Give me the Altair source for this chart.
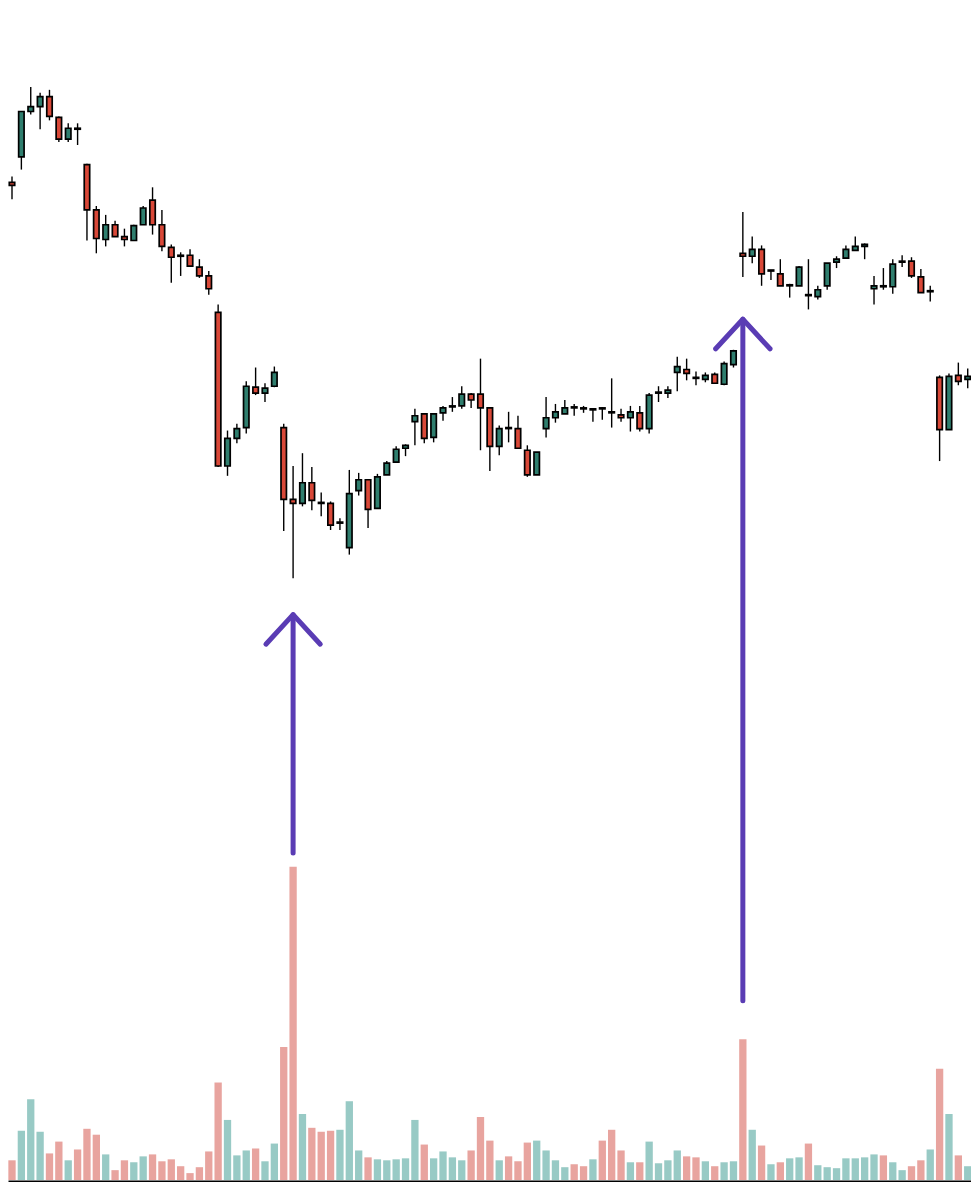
import altair as alt
import pandas as pd

# ---- candle data (price) ----
open_ = [99.7, 101.6, 104.2, 108.8, 109.3, 110.3, 108.2, 106.0, 107.1, 103.4,
         98.8, 95.8, 97.3, 96.1, 95.7, 97.3, 99.8, 97.3, 95.0, 94.2,
         94.2, 93.0, 92.1, 88.4, 72.8, 75.6, 76.7, 80.8, 80.2, 80.9,
         76.7, 69.4, 69.0, 71.1, 69.1, 69.0, 67.0, 64.5, 70.3, 71.4,
         68.5, 71.9, 73.2, 74.6, 77.3, 78.1, 75.7, 78.2, 78.8, 78.9,
         80.1, 80.1, 78.7, 74.8, 76.7, 76.6, 74.4, 71.9, 76.6, 77.7,
         78.1, 78.8, 78.7, 78.5, 78.7, 78.3, 78.0, 77.7, 78.2, 76.6,
         80.2, 80.2, 82.3, 82.6, 81.8, 81.6, 82.1, 81.1, 83.1, 94.4,
         94.1, 94.8, 92.6, 92.3, 91.1, 91.1, 90.2, 90.0, 91.1, 93.5,
         93.9, 94.7, 95.1, 90.8, 91.1, 91.0, 93.5, 93.6, 92.0, 90.5,
         81.8, 76.5, 82.0, 81.6, 81.9]
high = [101.8, 102.2, 108.8, 111.3, 110.7, 111.0, 108.3, 107.6, 107.6, 103.5,
        99.2, 98.3, 97.7, 96.9, 97.3, 99.2, 101.1, 98.8, 95.3, 94.5,
        94.8, 93.8, 92.6, 89.2, 76.4, 77.1, 81.4, 82.8, 81.2, 82.9,
        77.1, 72.8, 74.1, 72.7, 70.1, 69.2, 67.5, 72.4, 72.1, 71.4,
        72.0, 73.3, 74.8, 75.0, 78.6, 78.1, 78.1, 78.9, 79.8, 80.9,
        80.2, 83.7, 78.8, 76.9, 78.3, 77.9, 74.9, 74.2, 79.8, 79.1,
        79.5, 79.1, 78.9, 78.6, 78.8, 81.7, 78.6, 78.9, 78.9, 80.2,
        80.9, 80.9, 83.9, 83.7, 82.4, 82.3, 82.3, 83.4, 84.6, 98.6,
        96.1, 95.2, 92.7, 93.8, 91.3, 93.1, 93.8, 91.1, 93.4, 94.1,
        95.2, 96.1, 95.4, 92.1, 92.9, 93.8, 94.2, 94.0, 92.8, 91.1,
        82.0, 82.2, 83.3, 82.7, 83.5]
low = [99.5, 99.9, 102.9, 108.5, 107.0, 107.9, 105.7, 105.7, 105.4, 95.7,
       94.4, 95.1, 96.1, 95.1, 95.7, 97.3, 96.3, 94.6, 91.4, 92.1,
       93.1, 91.9, 90.2, 72.7, 71.8, 75.1, 76.1, 80.0, 79.3, 80.8,
       66.2, 61.4, 68.7, 68.3, 67.7, 66.3, 66.3, 63.8, 69.8, 66.5,
       68.5, 71.9, 73.2, 73.8, 74.9, 75.1, 75.2, 77.4, 78.3, 78.6,
       78.7, 74.4, 72.3, 73.9, 75.2, 74.6, 71.7, 71.9, 75.7, 77.2,
       78.1, 77.9, 78.2, 77.3, 77.5, 76.7, 77.3, 76.3, 76.3, 76.1,
       79.3, 79.7, 80.4, 81.5, 81.0, 81.3, 81.2, 81.0, 82.8, 92.0,
       93.4, 91.1, 91.7, 91.1, 89.9, 91.1, 88.7, 89.7, 90.7, 92.9,
       93.9, 94.7, 93.8, 89.2, 90.7, 90.3, 93.0, 91.9, 90.4, 89.5,
       73.3, 76.5, 81.0, 80.7, 81.8]
close = [101.6, 101.3, 108.8, 109.3, 110.3, 108.3, 106.0, 107.1, 107.0, 98.8,
         95.9, 97.3, 96.1, 95.8, 97.2, 99.0, 97.3, 95.1, 94.0, 94.1,
         93.1, 92.1, 90.8, 72.8, 75.6, 76.6, 80.9, 80.2, 80.7, 82.3,
         69.4, 69.0, 71.1, 69.3, 69.0, 66.8, 67.1, 70.0, 71.4, 68.4,
         71.7, 73.1, 74.5, 74.9, 77.9, 75.6, 78.1, 78.7, 78.9, 80.1,
         79.5, 78.7, 74.8, 76.6, 76.6, 74.6, 71.9, 74.2, 77.7, 78.3,
         78.7, 78.7, 78.6, 78.6, 78.6, 78.2, 77.7, 78.3, 76.6, 80.0,
         80.3, 80.5, 82.9, 82.2, 81.7, 82.0, 81.2, 83.2, 84.5, 94.1,
         94.8, 92.3, 92.7, 91.1, 91.2, 93.0, 90.1, 90.7, 93.4, 93.8,
         94.8, 95.1, 95.3, 91.1, 91.0, 93.3, 93.6, 92.1, 90.4, 90.6,
         76.5, 81.9, 81.4, 81.9, 82.6]
volume = [2.4, 2.0, 5.0, 8.2, 4.9, 2.7, 3.9, 2.0, 3.1, 5.2,
          4.6, 2.6, 1.0, 2.0, 1.8, 2.4, 2.6, 1.9, 2.1, 1.4,
          0.7, 1.3, 2.9, 9.9, 6.1, 2.5, 3.0, 3.2, 1.9, 3.7,
          13.5, 31.8, 6.7, 5.3, 4.9, 5.0, 5.1, 8.0, 3.0, 2.3,
          2.1, 2.0, 2.1, 2.2, 6.1, 3.6, 2.2, 2.9, 2.3, 2.0,
          3.0, 6.4, 4.0, 2.0, 2.4, 1.9, 3.8, 4.0, 3.0, 2.0,
          1.3, 1.6, 1.4, 2.1, 4.0, 5.1, 3.0, 1.8, 1.8, 3.9,
          1.7, 2.0, 3.0, 2.4, 2.3, 1.9, 1.4, 1.8, 1.9, 14.3,
          5.1, 3.5, 1.6, 1.8, 2.2, 2.3, 3.7, 1.5, 1.3, 1.2,
          2.2, 2.2, 2.3, 2.6, 2.5, 1.8, 1.0, 1.4, 2.0, 3.1,
          11.3, 6.7, 2.5, 1.4, 2.3]

# ---- arrow annotations (candle index, tip price, tail price) ----
arrow_at = [31, 79]
arrow_tip = [57.7, 87.7]
arrow_tail = [33.5, 18.5]
head_dx = 2.9
head_dy = 3.0

GREEN = "#2f7e6e"
RED = "#d94838"
VGREEN = "#98cac5"
VRED = "#e8a49f"
PURPLE = "#5a3cb4"

df = pd.DataFrame({
    "i": list(range(len(open_))),
    "open": open_, "high": high, "low": low, "close": close, "volume": volume,
})

pts = []
for a, (xi, tip, tail) in enumerate(zip(arrow_at, arrow_tip, arrow_tail)):
    pts += [
        {"seg": f"s{a}", "k": 0, "x": xi, "y": tail},
        {"seg": f"s{a}", "k": 1, "x": xi, "y": tip},
        {"seg": f"h{a}", "k": 0, "x": xi - head_dx, "y": tip - head_dy},
        {"seg": f"h{a}", "k": 1, "x": xi, "y": tip},
        {"seg": f"h{a}", "k": 2, "x": xi + head_dx, "y": tip - head_dy},
    ]
arrows_df = pd.DataFrame(pts)

W, H = 963, 1172
xs = alt.Scale(domain=[0.573, 103.35], nice=False, zero=False)
ps = alt.Scale(domain=[0.29, 119.31], nice=False, zero=False)
vs = alt.Scale(domain=[0, 119.02], nice=False, zero=False)
xaxis = alt.Axis(labels=False, ticks=False, grid=False, title=None,
                 domainColor="black", domainWidth=3, offset=1.5)

base = alt.Chart(df)
updown = "datum.close >= datum.open"

vol = base.transform_calculate(
    xl="datum.i - 0.39", xr="datum.i + 0.39", zero="0"
).mark_rect(clip=True).encode(
    x=alt.X("xl:Q", scale=xs, axis=xaxis),
    x2="xr:Q",
    y=alt.Y("volume:Q", scale=vs, axis=None),
    y2="zero:Q",
    fill=alt.condition(updown, alt.value(VGREEN), alt.value(VRED)),
)

wicks = base.mark_rule(color="black", strokeWidth=1.4, clip=True).encode(
    x=alt.X("i:Q", scale=xs, axis=xaxis),
    y=alt.Y("low:Q", scale=ps, axis=None),
    y2="high:Q",
)

bodies = base.transform_calculate(
    xl="datum.i - 0.29", xr="datum.i + 0.29"
).mark_rect(stroke="black", strokeWidth=1.7, clip=True).encode(
    x=alt.X("xl:Q", scale=xs, axis=xaxis),
    x2="xr:Q",
    y=alt.Y("open:Q", scale=ps, axis=None),
    y2="close:Q",
    fill=alt.condition(updown, alt.value(GREEN), alt.value(RED)),
)

arrows = alt.Chart(arrows_df).mark_line(
    color=PURPLE, strokeWidth=5, strokeCap="round", strokeJoin="round", clip=True
).encode(
    x=alt.X("x:Q", scale=xs, axis=xaxis),
    y=alt.Y("y:Q", scale=ps, axis=None),
    detail="seg:N",
    order="k:Q",
)

chart = alt.layer(vol, wicks, bodies, arrows).resolve_scale(
    y="independent"
).properties(
    width=W, height=H, padding=0
).configure_view(strokeWidth=0)

chart.save("out.html", embed_options={"renderer": "svg", "actions": False})
